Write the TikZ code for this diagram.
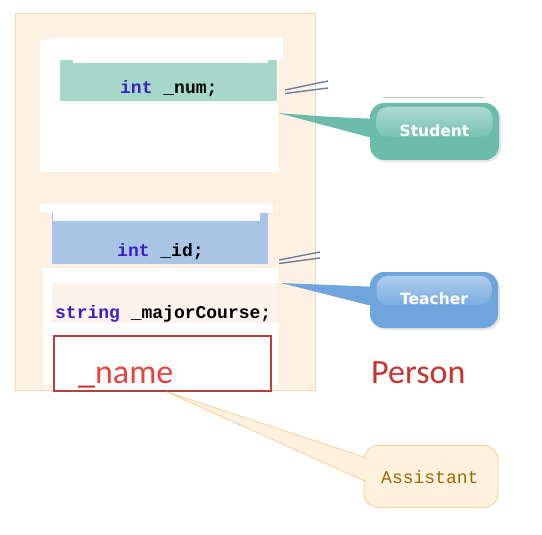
\documentclass[tikz,border=0pt]{standalone}
\usepackage{fontspec}
\setmainfont{Liberation Sans}
\newfontfamily\codefont{Liberation Mono}
\newfontfamily\calfont{Carlito}
\newfontfamily\bubfont{DejaVu Sans}
\definecolor{peach}{HTML}{FDF1E4}
\definecolor{peachline}{HTML}{F6D6B2}
\definecolor{barteal}{HTML}{A6D7C9}
\definecolor{barblue}{HTML}{A9C5E6}
\definecolor{kw}{HTML}{3B20C4}
\definecolor{stu}{HTML}{6BBCAA}
\definecolor{tea}{HTML}{6EA5DD}
\definecolor{asfill}{HTML}{FEF1DE}
\definecolor{asline}{HTML}{F4D4A4}
\definecolor{astext}{HTML}{9A6A05}
\definecolor{redbox}{HTML}{B5403C}
\definecolor{namered}{HTML}{E6443E}
\definecolor{underred}{HTML}{C42A24}
\definecolor{personred}{HTML}{C9322E}
\definecolor{dbl}{HTML}{6E7C9C}
\definecolor{strfill}{HTML}{FCF4EC}
\tikzset{
  box/.style={rectangle, inner sep=0pt, outer sep=0pt},
  code/.style={anchor=base west, inner sep=0pt, font=\codefont\bfseries\fontsize{18}{20}\selectfont},
  bubble/.style={box, rounded corners=14pt},
  bubtext/.style={text=white, font=\bubfont\bfseries\fontsize{15.5}{18}\selectfont},
  dblline/.style={draw=dbl, line width=1.4pt},
}
\begin{document}
\begin{tikzpicture}[x=1pt,y=-1pt]
\useasboundingbox (0,0) rectangle (542,535);
\fill[white] (0,0) rectangle (542,535);
% Person frame
\node[box, draw=peachline, fill=peach, line width=0.8pt, minimum width=300, minimum height=377] (person) at (165,201.5) {};
% upper white block
\node[box, fill=white, minimum width=238, minimum height=132] (white1) at (159,106) {};
\node[box, fill=white, minimum width=233, minimum height=22] (band1) at (166.5,49) {};
\node[box, fill=barteal, minimum width=217, minimum height=41] (bar1) at (168.5,80.5) {};
\node[box, fill=white, minimum width=195, minimum height=3] (notch1) at (170.5,61.5) {};
\node[code] (num) at (120,94) {\textcolor{kw}{int} \_num;};
% lower white block
\node[box, fill=white, minimum width=233, minimum height=10] (band2) at (156.5,208) {};
\node[box, fill=barblue, minimum width=216, minimum height=51] (bar2) at (160,238.5) {};
\node[box, fill=white, minimum width=207, minimum height=8] (notch2) at (156.5,217) {};
\node[code] (id) at (117,257) {\textcolor{kw}{int} \_id;};
\node[box, fill=white, minimum width=235, minimum height=117] (white3) at (160.5,326.5) {};
\node[box, fill=strfill, minimum width=226, minimum height=40] (strbox) at (165,303) {};
\node[code] (major) at (55,318) {\textcolor{kw}{string} \_majorCourse;};
\node[box, draw=redbox, fill=white, line width=1.2pt, minimum width=217, minimum height=55] (namebox) at (162.5,363.5) {};
\node[anchor=base west, inner sep=0pt, text=namered, font=\calfont\fontsize{34}{38}\selectfont] (name) at (78,383) {\textcolor{underred}{\_}name};
\node[anchor=base west, inner sep=0pt, text=personred, font=\calfont\fontsize{34}{38}\selectfont] (plabel) at (371,383) {Person};
% double strokes
\coordinate (d1a) at (285,90); \coordinate (d1b) at (328,81);
\coordinate (d1c) at (285,93.5); \coordinate (d1d) at (328,88);
\draw[dblline] (d1a) -- (d1b); \draw[dblline] (d1c) -- (d1d);
\coordinate (d2a) at (279,260); \coordinate (d2b) at (320,252);
\coordinate (d2c) at (279,263.5); \coordinate (d2d) at (320,258);
\draw[dblline] (d2a) -- (d2b); \draw[dblline] (d2c) -- (d2d);
% Student bubble
\coordinate (gl1) at (383,97); \coordinate (gl2) at (485,97);
\draw[gray!45, line width=0.8pt] (gl1) -- (gl2);
\coordinate (stip) at (278,113); \coordinate (sb1) at (380,119); \coordinate (sb2) at (380,140);
\fill[stu] (stip) .. controls (330,117) .. (sb1) -- (sb2) -- cycle;
\node[bubble, fill=black, opacity=0.10, minimum width=129, minimum height=57] (stushadow) at (436.5,133.5) {};
\node[bubble, fill=stu, minimum width=129, minimum height=57] (student) at (434.5,131.5) {};
\node[box, rounded corners=11pt, top color=white!45!stu, bottom color=stu!92!white, minimum width=116, minimum height=30] (stuhl) at (434.5,122) {};
\node[bubtext] (stutext) at (434.5,131) {Student};
% Teacher bubble
\coordinate (ttip) at (281,283); \coordinate (tb1) at (380,287); \coordinate (tb2) at (380,308);
\fill[tea] (ttip) .. controls (330,285) .. (tb1) -- (tb2) -- cycle;
\node[bubble, fill=black, opacity=0.10, minimum width=128, minimum height=56] (teashadow) at (436,302) {};
\node[bubble, fill=tea, minimum width=128, minimum height=56] (teacher) at (434,300) {};
\node[box, rounded corners=11pt, top color=white!45!tea, bottom color=tea!92!white, minimum width=115, minimum height=29] (teahl) at (434,290.5) {};
\node[bubtext] (teatext) at (434,298.5) {Teacher};
% Assistant bubble
\node[bubble, draw=asline, fill=asfill, line width=0.9pt, minimum width=134, minimum height=62] (assistant) at (431,476.5) {};
\coordinate (atip) at (167,392); \coordinate (ab1) at (367,458); \coordinate (ab2) at (367,482);
\fill[asfill] (atip) -- (ab1) -- (ab2) -- cycle;
\draw[asline, line width=0.9pt] (ab1) -- (atip) -- (ab2);
\node[anchor=base west, inner sep=0pt, text=astext, font=\codefont\fontsize{18}{20}\selectfont] (astxt) at (381,483) {Assistant};
\end{tikzpicture}
\end{document}
